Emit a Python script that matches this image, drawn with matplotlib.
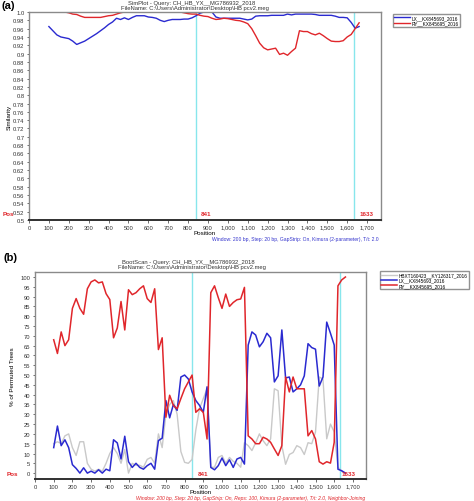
import numpy as np
import matplotlib
matplotlib.use('Agg')
import matplotlib.pyplot as plt
from matplotlib.ticker import FuncFormatter, MultipleLocator

matplotlib.rc('font', family='Liberation Sans')

# ---- data ----
# (a) SimPlot, window midpoints 100..1660 step 20
pos_a = list(range(100, 1661, 20))
lx_sim = [0.965, 0.955, 0.945, 0.940, 0.938, 0.936, 0.930, 0.922, 0.926, 0.930,
          0.936, 0.942, 0.948, 0.955, 0.962, 0.970, 0.976, 0.985, 0.982, 0.986,
          0.982, 0.987, 0.991, 0.991, 0.991, 0.988, 0.987, 0.985, 0.980, 0.977,
          0.980, 0.982, 0.982, 0.982, 0.983, 0.983, 0.986, 0.991, 0.997, 1.000,
          1.000, 1.000, 0.988, 0.985, 0.985, 0.985, 0.985, 0.985, 0.985, 0.983,
          0.981, 0.983, 0.990, 0.991, 0.991, 0.991, 0.992, 0.992, 0.992, 0.992,
          0.995, 0.993, 0.995, 0.995, 0.995, 0.995, 0.995, 0.994, 0.992, 0.992,
          0.992, 0.992, 0.990, 0.987, 0.987, 0.986, 0.975, 0.961, 0.965]
ry_sim = [1.000, 1.000, 1.000, 1.000, 1.000, 0.998, 0.995, 0.994, 0.990, 0.987,
          0.987, 0.987, 0.987, 0.987, 0.989, 0.991, 0.992, 0.995, 0.998, 1.000,
          1.000, 1.000, 1.000, 1.000, 1.000, 1.000, 1.000, 1.000, 1.000, 1.000,
          1.000, 1.000, 1.000, 1.000, 0.998, 0.996, 0.995, 0.995, 0.992, 0.990,
          0.989, 0.985, 0.982, 0.983, 0.985, 0.984, 0.982, 0.980, 0.979, 0.976,
          0.972, 0.960, 0.943, 0.925, 0.914, 0.909, 0.911, 0.913, 0.898, 0.901,
          0.896, 0.905, 0.913, 0.955, 0.953, 0.953, 0.948, 0.945, 0.949, 0.943,
          0.936, 0.930, 0.929, 0.929, 0.931, 0.940, 0.946, 0.960, 0.974]

# (b) BootScan, same positions
pos_b = list(range(100, 1661, 20))
hb_boot = [15, 16, 15, 19, 20, 13, 9, 16, 16, 5,
           2, 1, 2, 1, 5, 10, 13, 10, 5, 12,
           0, 5, 4, 4, 3, 7, 8, 5, 20, 13,
           30, 35, 37, 30, 11, 5.5, 5, 7, 22, 33,
           38, 43, 3, 3, 8, 9, 5, 8, 6, 5,
           3, 15.5, 14, 11.5, 15.5, 20, 16.5, 14, 17.5, 43,
           42, 14, 4.5, 9.5, 10.5, 14, 13, 9.5, 15.5, 15,
           21, 49, 48, 17.5, 25, 21, 3, 1, 0]
lx_boot = [13, 24, 14, 17, 13, 4.3, 2.4, 0, 2.7, 0,
           1, 0, 1.7, 0, 2, 1.2, 17, 15.4, 7.2, 18.8,
           5.8, 2.9, 5, 2.9, 2, 3.8, 5, 2, 16.6, 17.8,
           37, 28.2, 35, 32, 49, 50, 48, 41.4, 37, 34.5,
           31, 44, 2.9, 1.7, 3.8, 7.7, 3.8, 6.8, 2.9, 7.2,
           8, 4.6, 65.3, 72, 70.4, 64.4, 67, 71.3, 69, 46.5,
           49.6, 73, 48.5, 49, 41.4, 43, 45, 49.6, 66, 64,
           63.2, 44.4, 49, 77, 71.3, 65.3, 2, 1.2, 0]
ry_boot = [68, 61, 72, 65, 68, 84, 89, 84, 81, 94,
           97.5, 98.5, 97, 97.5, 91.5, 88.5, 69, 74, 87.5, 73,
           93.5, 91, 92, 94, 95.5, 89, 87, 94, 63, 69,
           28.5, 39.7, 34.5, 32.8, 38, 43, 46.5, 50, 31, 32.8,
           31, 17.4, 92, 95.5, 89.5, 84, 91.3, 85, 87, 88.4,
           88.8, 94.7, 19, 17.4, 15, 15, 18.3, 17.4, 15.7, 12.3,
           9, 14, 49, 41.4, 49, 43, 43, 43, 19, 21.7,
           17.4, 5.8, 4.6, 5.8, 5.1, 15.7, 95.5, 98.5, 100]

breakpoints = [841, 1633]

BLUE = '#2a2ad0'
RED = '#e0262b'
GREY = '#c9c9c9'
CYAN = '#88e6ec'
W, H = 474, 502


def fx(x):
    return x / W


def fy(y):
    return 1 - y / H


def style_axes(ax):
    for s in ['left', 'top', 'right']:
        ax.spines[s].set_color('#8a8a8a')
        ax.spines[s].set_linewidth(1.0)
        ax.spines[s].set_zorder(5)
    ax.spines['bottom'].set_color('#303030')
    ax.spines['bottom'].set_linewidth(1.4)
    ax.spines['bottom'].set_zorder(5)
    ax.tick_params(labelsize=4.2, length=1.8, width=0.5, pad=1.5, colors='#333333')
    ax.set_xlim(0, 1770)
    ax.xaxis.set_major_locator(MultipleLocator(100))
    ax.xaxis.set_major_formatter(FuncFormatter(lambda v, p: f'{int(v):,}'))


def small_legend(ax, x, y):
    ax.legend(loc='upper left', bbox_to_anchor=(fx(x), fy(y)), bbox_transform=fig.transFigure,
              fontsize=3.4, frameon=True, fancybox=False, edgecolor='#777777', handlelength=3.2,
              borderpad=0.3, labelspacing=0.05, handletextpad=0.5, borderaxespad=0)


fig = plt.figure(figsize=(W / 100, H / 100), dpi=100)

# ---------------- (a) ----------------
ax1 = fig.add_axes([fx(29), fy(221), fx(381 - 29), (221 - 13) / H])
for b in breakpoints:
    ax1.axvline(b, color=CYAN, lw=1.0, zorder=1)
ax1.plot(pos_a, lx_sim, color=BLUE, lw=1.0, label='LX__KX845693_2016', zorder=3)
ax1.plot(pos_a, ry_sim, color=RED, lw=1.0, label='RY__KX845695_2016', zorder=3)
ax1.set_ylim(0.5, 1.0)
yt = np.round(np.arange(0.5, 1.001, 0.02), 2)
ax1.set_yticks(yt)
ax1.set_yticklabels(['1.0' if v == 1.0 else f'{v:g}' for v in yt])
style_axes(ax1)
ax1.set_xlabel('Position', fontsize=4.5, labelpad=0.5)
ax1.set_ylabel('Similarity', fontsize=4.5, labelpad=1)
small_legend(ax1, 393, 14.5)

fig.text(fx(2), fy(6), '(a)', fontsize=8, fontweight='bold', va='center')
fig.text(fx(192), fy(3.3), 'SimPlot - Query: CH_HB_YX__MG786932_2018', fontsize=4.2,
         ha='center', va='center', color='#333333')
fig.text(fx(195), fy(8.5), 'FileName: C:\\Users\\Administrator\\Desktop\\HB pcv2.meg', fontsize=4.2,
         ha='center', va='center', color='#333333')
fig.text(fx(3), fy(215), 'Pos', fontsize=4.5, color=RED, fontweight='bold', va='center')
ax1.annotate('841', xy=(841, 0.515), xytext=(3, 0), textcoords='offset points',
             fontsize=4.5, color=RED, fontweight='bold', va='center')
ax1.annotate('1633', xy=(1633, 0.515), xytext=(4, 0), textcoords='offset points',
             fontsize=4.5, color=RED, fontweight='bold', va='center')
fig.text(fx(379), fy(239), 'Window: 200 bp, Step: 20 bp, GapStrip: On, Kimura (2-parameter), T/t: 2.0',
         fontsize=3.6, ha='right', va='center', color='#3333cc')

# ---------------- (b) ----------------
ax2 = fig.add_axes([fx(35), fy(480), fx(366 - 35), (480 - 272.7) / H])
for b in breakpoints:
    ax2.axvline(b, color=CYAN, lw=1.0, zorder=1)
ax2.plot(pos_b, hb_boot, color=GREY, lw=1.0, label='HBXT160423__KY126317_2016', zorder=2)
ax2.plot(pos_b, lx_boot, color=BLUE, lw=1.1, label='LX__KX845693_2016', zorder=3)
ax2.plot(pos_b, ry_boot, color=RED, lw=1.1, label='RY__KX845695_2016', zorder=4)
ax2.set_ylim(-3, 102.7)
ax2.set_yticks(np.arange(0, 101, 5))
style_axes(ax2)
ax2.set_xlabel('Position', fontsize=4.5, labelpad=0.5)
ax2.set_ylabel('% of Permuted Trees', fontsize=4.5, labelpad=4)
small_legend(ax2, 380, 272)

fig.text(fx(3), fy(258), '(b)', fontsize=8, fontweight='bold', va='center')
fig.text(fx(188), fy(262.7), 'BootScan - Query: CH_HB_YX__MG786932_2018', fontsize=4.2,
         ha='center', va='center', color='#333333')
fig.text(fx(192), fy(267.5), 'FileName: C:\\Users\\Administrator\\Desktop\\HB pcv2.meg', fontsize=4.2,
         ha='center', va='center', color='#333333')
fig.text(fx(7), fy(474), 'Pos', fontsize=4.5, color=RED, fontweight='bold', va='center')
ax2.annotate('841', xy=(841, 0), xytext=(4, 0), textcoords='offset points',
             fontsize=4.5, color=RED, fontweight='bold', va='center')
ax2.annotate('1633', xy=(1633, 0), xytext=(1, 0), textcoords='offset points',
             fontsize=4.5, color=RED, fontweight='bold', va='center')
fig.text(fx(365), fy(498.5),
         'Window: 200 bp, Step: 20 bp, GapStrip: On, Reps: 100, Kimura (2-parameter), T/t: 2.0, Neighbor-Joining',
         fontsize=3.6, ha='right', va='center', color=RED, style='italic')

fig.savefig('out.png', dpi=100)
